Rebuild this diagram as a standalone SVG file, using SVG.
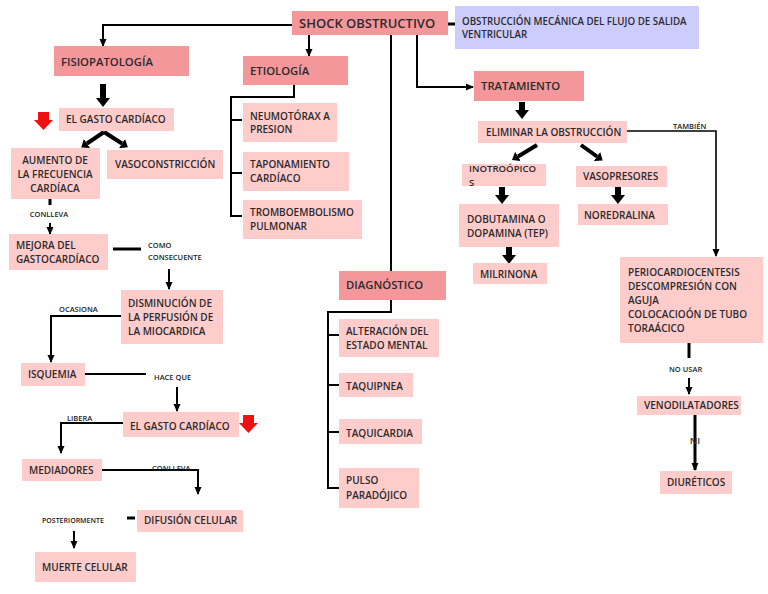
<svg xmlns="http://www.w3.org/2000/svg" width="768" height="594" viewBox="0 0 768 594">
<defs>
<style>
.hd{fill:#f4979b}
.lt{fill:#ffcccc}
.bl{fill:#ccccff}
text{font-family:"Open Sans","DejaVu Sans",sans-serif;font-weight:600;fill:#2b2b2b}
.t{font-size:10px}
.h{font-size:11.3px}
.s{font-size:7.5px;fill:#1a1a1a}
.ln{fill:none;stroke:#000;stroke-width:2}
.tk{fill:none;stroke:#000;stroke-width:3}
.bg{fill:none;stroke:#000;stroke-width:6}
.md{fill:none;stroke:#000;stroke-width:4}
</style>
<marker id="a" markerUnits="userSpaceOnUse" markerWidth="8" markerHeight="8" refX="7" refY="4" orient="auto"><path d="M0,0.5 L8,4 L0,7.5 z" fill="#000"/></marker>
<marker id="b" markerUnits="userSpaceOnUse" markerWidth="9" markerHeight="14" refX="0" refY="7" orient="auto"><path d="M0,0 L9,7 L0,14 z" fill="#000"/></marker>
<marker id="c" markerUnits="userSpaceOnUse" markerWidth="7" markerHeight="11" refX="0" refY="5.5" orient="auto"><path d="M0,0 L7,5.5 L0,11 z" fill="#000"/></marker>
</defs>

<g id="connectors">
<path class="ln" d="M292,25 H103 V46" marker-end="url(#a)"/>
<path class="ln" d="M309,35 V56" marker-end="url(#a)"/>
<path class="tk" d="M448,24 H455"/>
<path class="ln" d="M391,35 V271"/>
<path class="ln" d="M417,35 V87 H473" marker-end="url(#a)"/>
<path class="ln" d="M294,85 V97 H231 V216 H242 M231,120 H242 M231,173 H242"/>
<path class="ln" d="M391,300 V312 H328 V488 H339 M328,335 H339 M328,385 H339 M328,432 H339"/>
<path class="bg" d="M103,84 V98" marker-end="url(#b)"/>
<path class="md" d="M104,132 L87,143.5" marker-end="url(#c)"/>
<path class="md" d="M104,132 L122,143.5" marker-end="url(#c)"/>
<path class="tk" d="M50,199 V205"/>
<path class="ln" d="M50,223 V234" marker-end="url(#a)"/>
<path class="tk" d="M113,249 H141"/>
<path class="ln" d="M169,269 V289" marker-end="url(#a)"/>
<path class="ln" d="M121,316 H51 V362" marker-end="url(#a)"/>
<path class="ln" d="M85,374 H146"/>
<path class="ln" d="M177,387 V411" marker-end="url(#a)"/>
<path class="ln" d="M123,423 H61 V453" marker-end="url(#a)"/>
<path class="ln" d="M102,470 H198 V494" marker-end="url(#a)"/>
<path class="tk" d="M127,518 H135"/>
<path class="ln" d="M74,531 V548" marker-end="url(#a)"/>
<path class="bg" d="M522,102 V110" marker-end="url(#b)"/>
<path class="md" d="M537,145 L518,156.5" marker-end="url(#c)"/>
<path class="md" d="M581,145 L597,156.5" marker-end="url(#c)"/>
<path class="ln" style="stroke-width:1.6" d="M627,131 H716 V256" marker-end="url(#a)"/>
<path class="bg" d="M502,187 V195" marker-end="url(#b)"/>
<path class="bg" d="M509,247 V255" marker-end="url(#b)"/>
<path class="bg" d="M618,187 V195" marker-end="url(#b)"/>
<path class="tk" d="M689,343 V358"/>
<path class="ln" d="M689,378 V394" marker-end="url(#a)"/>
<path class="tk" d="M695,415 V470" marker-end="url(#a)"/>
</g>

<g id="shock"><rect class="hd" x="292" y="11" width="156" height="24"/><text x="299" y="28" style="font-size:13px">SHOCK OBSTRUCTIVO</text></g>
<g id="definicion"><rect class="bl" x="455" y="6" width="244" height="43"/><text class="t" x="462" y="24.5" style="font-size:9.75px">OBSTRUCCIÓN MECÁNICA DEL FLUJO DE SALIDA</text><text class="t" x="462" y="38" style="font-size:9.75px">VENTRICULAR</text></g>

<g id="fisiopatologia"><rect class="hd" x="54" y="46" width="135" height="30"/><text class="h" x="61" y="66">FISIOPATOLOGÍA</text></g>
<g id="gasto1"><rect class="lt" x="59" y="108" width="115" height="23"/><text class="t" x="66" y="123">EL GASTO CARDÍACO</text>
<path d="M38,112 H49 V120 H53 L43.5,130 L34,120 H38 z" fill="#ee1111"/></g>
<g id="aumento"><rect class="lt" x="11" y="148" width="89" height="51"/><text class="t" text-anchor="middle"><tspan x="55" y="164">AUMENTO DE</tspan><tspan x="55" y="178">LA FRECUENCIA</tspan><tspan x="55" y="192">CARDÍACA</tspan></text></g>
<g id="vasoconstriccion"><rect class="lt" x="107" y="150" width="116" height="29"/><text class="t" x="115" y="168">VASOCONSTRICCIÓN</text></g>
<g id="lbl-conlleva1"><text class="s" x="49" y="216.5" text-anchor="middle">CONLLEVA</text></g>
<g id="mejora"><rect class="lt" x="9" y="234" width="99" height="36"/><text class="t" x="16" y="249">MEJORA DEL</text><text class="t" x="16" y="263">GASTOCARDÍACO</text></g>
<g id="lbl-como"><text class="s" x="148" y="247.5">COMO</text><text class="s" x="148" y="259.5">CONSECUENTE</text></g>
<g id="disminucion"><rect class="lt" x="121" y="290" width="102" height="54"/><text class="t" x="128" y="306.5">DISMINUCIÓN DE</text><text class="t" x="128" y="320.5">LA PERFUSIÓN DE</text><text class="t" x="128" y="334.5">LA MIOCARDICA</text></g>
<g id="lbl-ocasiona"><text class="s" x="59" y="311.5">OCASIONA</text></g>
<g id="isquemia"><rect class="lt" x="21" y="363" width="64" height="23"/><text class="t" x="28" y="377.5">ISQUEMIA</text></g>
<g id="lbl-hace"><text class="s" x="154" y="379.5">HACE QUE</text></g>
<g id="gasto2"><rect class="lt" x="123" y="412" width="116" height="25"/><text class="t" x="130" y="429.5">EL GASTO CARDÍACO</text>
<path d="M243,415 H254 V423 H258 L248.5,433 L239,423 H243 z" fill="#ee1111"/></g>
<g id="lbl-libera"><text class="s" x="67" y="420.5">LIBERA</text></g>
<g id="mediadores"><rect class="lt" x="22" y="459" width="80" height="22"/><text class="t" x="29" y="473.5">MEDIADORES</text></g>
<g id="lbl-conlleva2"><text class="s" x="152" y="470.5">CONLLEVA</text></g>
<g id="difusion"><rect class="lt" x="137" y="510" width="106" height="22"/><text class="t" x="144" y="524">DIFUSIÓN CELULAR</text></g>
<g id="lbl-posteriormente"><text class="s" x="42" y="522.5" style="font-size:7px">POSTERIORMENTE</text></g>
<g id="muerte"><rect class="lt" x="35" y="552" width="101" height="30"/><text class="t" x="42" y="570.5">MUERTE CELULAR</text></g>

<g id="etiologia"><rect class="hd" x="243" y="56" width="105" height="29"/><text class="h" x="250" y="75">ETIOLOGÍA</text></g>
<g id="neumotorax"><rect class="lt" x="243" y="103" width="94" height="39"/><text class="t" x="250" y="119.5">NEUMOTÓRAX A</text><text class="t" x="250" y="133">PRESION</text></g>
<g id="taponamiento"><rect class="lt" x="243" y="152" width="106" height="39"/><text class="t" x="250" y="167.5">TAPONAMIENTO</text><text class="t" x="250" y="181.5">CARDÍACO</text></g>
<g id="tromboembolismo"><rect class="lt" x="243" y="200" width="119" height="39"/><text class="t" x="250" y="215.5">TROMBOEMBOLISMO</text><text class="t" x="250" y="229.5">PULMONAR</text></g>

<g id="diagnostico"><rect class="hd" x="339" y="271" width="107" height="29"/><text class="h" x="346" y="289">DIAGNÓSTICO</text></g>
<g id="alteracion"><rect class="lt" x="339" y="319" width="100" height="38"/><text class="t" x="346" y="334.5">ALTERACIÓN DEL</text><text class="t" x="346" y="348.5">ESTADO MENTAL</text></g>
<g id="taquipnea"><rect class="lt" x="339" y="373" width="74" height="24"/><text class="t" x="346" y="389.5">TAQUIPNEA</text></g>
<g id="taquicardia"><rect class="lt" x="339" y="419" width="83" height="25"/><text class="t" x="346" y="436.5">TAQUICARDIA</text></g>
<g id="pulso"><rect class="lt" x="339" y="468" width="80" height="40"/><text class="t" x="346" y="483.5">PULSO</text><text class="t" x="346" y="498.5">PARADÓJICO</text></g>

<g id="tratamiento"><rect class="hd" x="474" y="71" width="110" height="30"/><text class="h" x="481" y="90">TRATAMIENTO</text></g>
<g id="eliminar"><rect class="lt" x="478" y="121" width="149" height="22"/><text class="t" x="486" y="135.5">ELIMINAR LA OBSTRUCCIÓN</text></g>
<g id="lbl-tambien"><text class="s" x="673" y="128.5">TAMBIÉN</text></g>
<g id="inotropicos"><rect class="lt" x="462" y="164" width="84" height="22"/><text class="t" x="469" y="172" style="font-size:9.6px">INOTROÓPICO</text><text class="t" x="469" y="186" style="font-size:9.6px">S</text></g>
<g id="vasopresores"><rect class="lt" x="576" y="166" width="91" height="21"/><text class="t" x="583" y="179.5">VASOPRESORES</text></g>
<g id="dobutamina"><rect class="lt" x="459" y="204" width="100" height="43"/><text class="t" x="467" y="222.5">DOBUTAMINA O</text><text class="t" x="467" y="236.5">DOPAMINA (TEP)</text></g>
<g id="milrinona"><rect class="lt" x="473" y="263" width="74" height="21"/><text class="t" x="480" y="277.5">MILRINONA</text></g>
<g id="noredralina"><rect class="lt" x="578" y="204" width="90" height="21"/><text class="t" x="584" y="218.5">NOREDRALINA</text></g>
<g id="periocardiocentesis"><rect class="lt" x="620" y="257" width="143" height="86"/><text class="t" x="628" y="275.5">PERIOCARDIOCENTESIS</text><text class="t" x="628" y="289.5">DESCOMPRESIÓN CON</text><text class="t" x="628" y="303.5">AGUJA</text><text class="t" x="628" y="317.5">COLOCACIOÓN DE TUBO</text><text class="t" x="628" y="331.5">TORAÁCICO</text></g>
<g id="lbl-nousar"><text class="s" x="669" y="372">NO USAR</text></g>
<g id="venodilatadores"><rect class="lt" x="637" y="396" width="104" height="19"/><text class="t" x="644" y="409">VENODILATADORES</text></g>
<g id="lbl-ni"><text x="695" y="443.5" text-anchor="middle" style="font-size:9.5px;fill:#333">NI</text></g>
<g id="diureticos"><rect class="lt" x="660" y="471" width="72" height="23"/><text class="t" x="667" y="485.5">DIURÉTICOS</text></g>
</svg>
